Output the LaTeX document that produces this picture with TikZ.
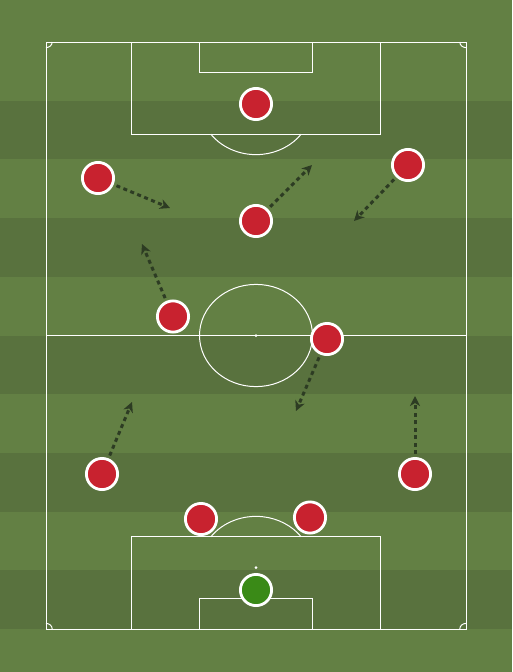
\documentclass[tikz,border=0pt]{standalone}
\usepackage{tikz}
\usepackage{xcolor}
\usetikzlibrary{arrows.meta,shadows}
\definecolor{grasslight}{RGB}{99,128,68}
\definecolor{grassdark}{RGB}{89,114,62}
\definecolor{shirt}{RGB}{200,34,47}
\definecolor{keepershirt}{RGB}{58,138,23}
\definecolor{runline}{RGB}{45,60,35}
\begin{document}
\begin{tikzpicture}
    [x=1pt,y=-1pt,
    pitchline/.style={draw=white,line width=1pt},
    player/.style={circle,draw=white,line width=2.8pt,fill=shirt,
        minimum size=31.2pt,inner sep=0pt,
        drop shadow={opacity=.25,shadow xshift=0pt,shadow yshift=-1pt}},
    keeper/.style={player,fill=keepershirt},
    run/.style={draw=runline,line width=3pt,dash pattern=on 4pt off 3.5pt,
        shorten <=3pt,-{Stealth[length=10pt,width=10pt,inset=3pt]}}]
\fill [grasslight] (0,0) rectangle (512,672);
\useasboundingbox (0,0) rectangle (512,672);
\foreach \y in {100.7,218.1,335.5,452.9,570.3}
    \fill [grassdark] (0,\y) rectangle (512,\y+58.7);
\draw [pitchline] (46,42) rectangle (466,629);
\draw [pitchline] (46,335.5) -- (466,335.5);
\draw [pitchline] (256,335.5) ellipse [x radius=56.5pt,y radius=51.1pt];
\draw [pitchline]
    (131.5,42) rectangle (380.5,134.2)
    (199.4,42) rectangle (312.6,72.7)
    (131.5,629) rectangle (380.5,536.8)
    (199.4,629) rectangle (312.6,598.3);
\draw [pitchline]
    (210.8,134.2) arc [start angle=216.87,end angle=323.13,x radius=56.5pt,y radius=51.1pt]
    (210.8,536.8) arc [start angle=143.13,end angle=36.87,x radius=56.5pt,y radius=51.1pt];
\draw [pitchline]
    (52.2,42) arc [start angle=0,end angle=-90,x radius=6.2pt,y radius=5.6pt]
    (459.8,42) arc [start angle=180,end angle=270,x radius=6.2pt,y radius=5.6pt]
    (52.2,629) arc [start angle=0,end angle=90,x radius=6.2pt,y radius=5.6pt]
    (459.8,629) arc [start angle=180,end angle=90,x radius=6.2pt,y radius=5.6pt];
\fill [white]
    (256,335.5) circle [radius=1.5pt]
    (256,103.5) circle [radius=1.5pt]
    (256,567.5) circle [radius=1.5pt];
\path
    (256,590) node [keeper] (gk) {}
    (201,519) node [player] (lcb) {}
    (310,517.5) node [player] (rcb) {}
    (102,474) node [player] (lb) {}
    (415,474) node [player] (rb) {}
    (173,316.5) node [player] (lcm) {}
    (327,339) node [player] (rcm) {}
    (256,221) node [player] (cam) {}
    (98,178) node [player] (lw) {}
    (408,165) node [player] (rw) {}
    (256,104) node [player] (st) {};
\path
    (170,208) coordinate (lwrun)
    (312,165) coordinate (camrun)
    (354,221) coordinate (rwrun)
    (142,244) coordinate (lcmrun)
    (296,411) coordinate (rcmrun)
    (132,402) coordinate (lbrun)
    (415,396) coordinate (rbrun);
\draw [run] (lw) -- (lwrun);
\draw [run] (cam) -- (camrun);
\draw [run] (rw) -- (rwrun);
\draw [run] (lcm) -- (lcmrun);
\draw [run] (rcm) -- (rcmrun);
\draw [run] (lb) -- (lbrun);
\draw [run] (rb) -- (rbrun);
\end{tikzpicture}
\end{document}
